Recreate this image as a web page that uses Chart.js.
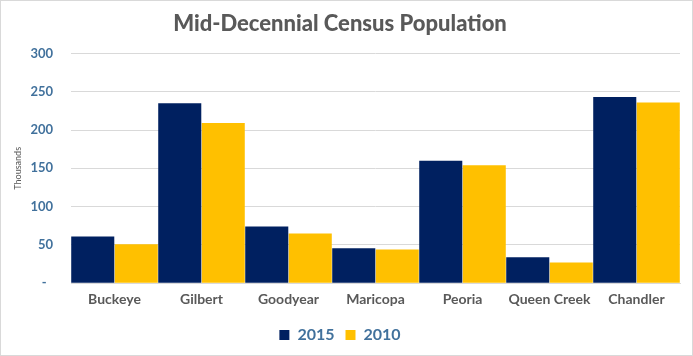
<!DOCTYPE html>
<html>
<head>
<meta charset="utf-8">
<script src="https://cdn.jsdelivr.net/npm/chart.js@4/dist/chart.umd.min.js"></script>
<style>
html,body{margin:0;padding:0;background:#fff;}
#wrap{width:693px;height:356px;position:relative;}
</style>
</head>
<body>
<div id="wrap"><canvas id="c" width="693" height="356"></canvas></div>
<script>
const categories = ['Buckeye','Gilbert','Goodyear','Maricopa','Peoria','Queen Creek','Chandler'];
const series2015 = [61, 235, 74, 45.5, 160, 34, 243];
const series2010 = [51, 209, 65, 44, 154, 27, 236];
const seriesLabels = ['2015','2010'];
const yTicks = [0, 50, 100, 150, 200, 250, 300];

const FONT = 'Lato, "Open Sans", sans-serif';

const borderPlugin = {
  id: 'outerBorder',
  afterDraw(chart) {
    const ctx = chart.ctx;
    ctx.save();
    ctx.strokeStyle = '#d9d9d9';
    ctx.lineWidth = 1;
    ctx.strokeRect(0.5, 0.5, chart.width - 1, chart.height - 1);
    ctx.restore();
  }
};

new Chart(document.getElementById('c'), {
  type: 'bar',
  data: {
    labels: categories,
    datasets: [
      { label: seriesLabels[0], data: series2015, backgroundColor: '#002060', borderWidth: 0 },
      { label: seriesLabels[1], data: series2010, backgroundColor: '#FFC000', borderWidth: 0 }
    ]
  },
  options: {
    responsive: false,
    animation: false,
    devicePixelRatio: 1,
    layout: { padding: { left: 0, right: 13, top: 0, bottom: 3 } },
    datasets: { bar: { barPercentage: 0.99, categoryPercentage: 1.0 } },
    plugins: {
      title: {
        display: true,
        text: 'Mid-Decennial Census Population',
        color: '#595959',
        font: { family: FONT, size: 22, weight: 900 },
        padding: { top: 11, bottom: 16 }
      },
      legend: {
        position: 'bottom',
        labels: {
          color: '#41719C',
          font: { family: FONT, size: 16, weight: 'bold' },
          boxWidth: 10,
          boxHeight: 10,
          padding: 11
        }
      },
      tooltip: { enabled: false }
    },
    scales: {
      x: {
        grid: { display: false, drawTicks: false },
        border: { color: '#d9d9d9' },
        ticks: {
          color: '#595959',
          font: { family: FONT, size: 14, weight: 'bold' },
          padding: 8,
          maxRotation: 0
        }
      },
      y: {
        min: 0,
        max: 300,
        afterBuildTicks(scale) { scale.ticks = yTicks.map(v => ({ value: v })); },
        afterFit(scale) { scale.width = 71; },
        grid: { color: '#d9d9d9', drawTicks: false },
        border: { display: false },
        ticks: {
          color: '#41719C',
          font: { family: FONT, size: 13, weight: 'bold' },
          padding: 18,
          callback: (v) => v === 0 ? '-  ' : String(v)
        },
        title: {
          display: true,
          text: 'Thousands',
          color: '#595959',
          font: { family: FONT, size: 9 },
          padding: { top: 13, bottom: 4 }
        }
      }
    }
  },
  plugins: [borderPlugin]
});
</script>
</body>
</html>
